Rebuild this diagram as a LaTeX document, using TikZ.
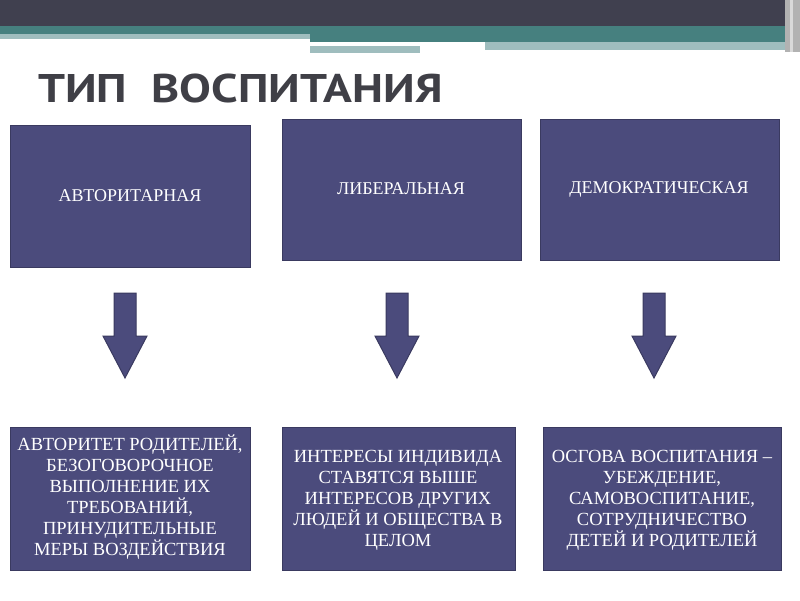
\documentclass[tikz,border=0pt]{standalone}
\usepackage{fontspec}
\setmainfont{Liberation Serif}
\newfontfamily\titlefont{PT Sans}
\definecolor{boxc}{HTML}{4B4B7C}
\definecolor{boxd}{HTML}{3A3A60}
\definecolor{barc}{HTML}{40404F}
\definecolor{teal1}{HTML}{46807F}
\definecolor{teal2}{HTML}{9FBDBE}
\definecolor{titc}{HTML}{3F3F46}
\begin{document}
\begin{tikzpicture}[x=1pt,y=-1pt,
  tbox/.style={fill=boxc,draw=boxd,line width=1pt,text=white,align=center,inner sep=0pt},
  toplab/.style={text=white,font=\fontsize{18}{20}\selectfont},
  botlab/.style={text=white,align=center,font=\fontsize{18.5}{21}\selectfont},
  barrow/.style={fill=boxc,draw=boxd,line width=1pt}]
\useasboundingbox (0,0) rectangle (800,600);
\fill[white] (0,0) rectangle (800,600);
% top bar
\fill[barc] (0,0) rectangle (800,26);
\fill[teal1] (0,26) rectangle (785,34);
\fill[teal2] (0,34) rectangle (310,39);
\fill[teal1] (310,34) rectangle (785,42);
\fill[white] (310,42) rectangle (485,45);
\fill[teal2] (485,42) rectangle (785,50);
\fill[teal2] (310,46) rectangle (420,53);
\fill[gray!60] (785,0) rectangle (800,52);
\fill[gray!30] (790,0) rectangle (793,52);
\node[anchor=base west,inner sep=0pt,text=titc,font=\titlefont\bfseries\fontsize{40}{40}\selectfont] (title) at (38,102) {\scalebox{1.19}[1]{ТИП\ \ ВОСПИТАНИЯ}};
% top boxes
\node[tbox,minimum width=240,minimum height=142,anchor=north west] (a) at (10,125) {};
\node[toplab] (at) at (130,196) {АВТОРИТАРНАЯ};
\node[tbox,minimum width=239,minimum height=141,anchor=north west] (b) at (282,119) {};
\node[toplab] (bt) at (401,189) {ЛИБЕРАЛЬНАЯ};
\node[tbox,minimum width=239,minimum height=141,anchor=north west] (c) at (540,119) {};
\node[toplab] (ct) at (659,189) {ДЕМОКРАТИЧЕСКАЯ};
% bottom boxes
\node[tbox,minimum width=240,minimum height=143,anchor=north west] (d) at (10,427) {};
\node[botlab] (dt) at (130,497) {АВТОРИТЕТ РОДИТЕЛЕЙ,\\БЕЗОГОВОРОЧНОЕ\\ВЫПОЛНЕНИЕ ИХ\\ТРЕБОВАНИЙ,\\ПРИНУДИТЕЛЬНЫЕ\\МЕРЫ ВОЗДЕЙСТВИЯ};
\node[tbox,minimum width=233,minimum height=143,anchor=north west] (e) at (282,427) {};
\node[botlab] (et) at (398,500) {ИНТЕРЕСЫ ИНДИВИДА\\СТАВЯТСЯ ВЫШЕ\\ИНТЕРЕСОВ ДРУГИХ\\ЛЮДЕЙ И ОБЩЕСТВА В\\ЦЕЛОМ};
\node[tbox,minimum width=238,minimum height=143,anchor=north west] (f) at (543,427) {};
\node[botlab] (ft) at (662,500) {ОСГОВА ВОСПИТАНИЯ –\\УБЕЖДЕНИЕ,\\САМОВОСПИТАНИЕ,\\СОТРУДНИЧЕСТВО\\ДЕТЕЙ И РОДИТЕЛЕЙ};
% arrows
\foreach \n/\x in {1/125,2/397,3/654}{
  \draw[barrow] (\x-11,293) -- (\x+11,293) -- (\x+11,336) -- (\x+22,336) -- (\x,378) -- (\x-22,336) -- (\x-11,336) -- cycle;
}
\end{tikzpicture}
\end{document}
